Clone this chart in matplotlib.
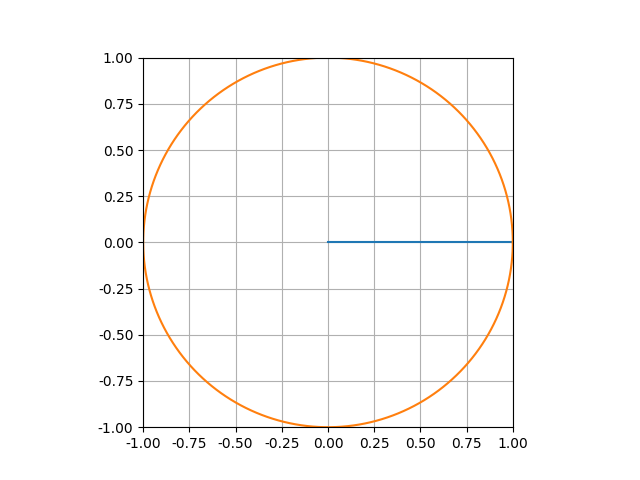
import matplotlib
matplotlib.use("Agg")
import matplotlib.pyplot as plt
import numpy as np

# radius segment along the x axis
radius_x = [0.0, 1.0]
radius_y = [0.0, 0.0]

# unit circle
RADIUS = 1.0
theta = np.linspace(0, 2 * np.pi, 400)

ticks = [-1.00, -0.75, -0.50, -0.25, 0.00, 0.25, 0.50, 0.75, 1.00]

fig, ax = plt.subplots(figsize=(6.4, 4.8), dpi=100)
ax.plot(radius_x, radius_y)
ax.plot(RADIUS * np.cos(theta), RADIUS * np.sin(theta))
ax.set_xlim(-1, 1)
ax.set_ylim(-1, 1)
ax.set_xticks(ticks)
ax.set_yticks(ticks)
ax.set_xticklabels([f"{t:.2f}" for t in ticks])
ax.set_yticklabels([f"{t:.2f}" for t in ticks])
ax.set_aspect("equal")
ax.grid(True)
fig.savefig("out.png")
